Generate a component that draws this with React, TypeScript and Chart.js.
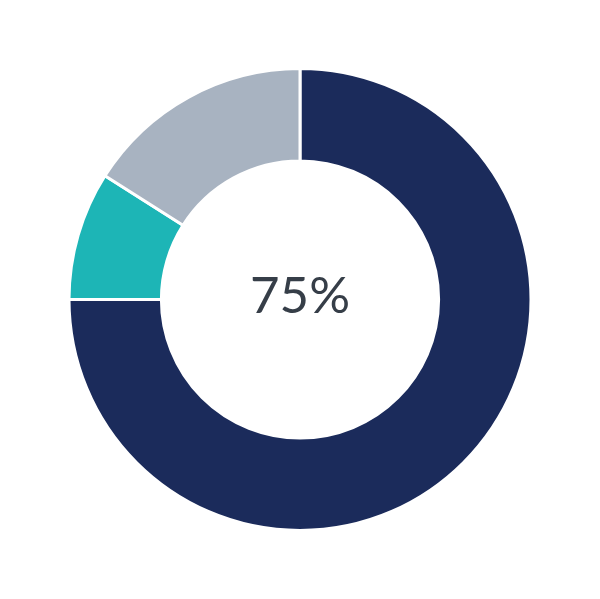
import React, { useEffect, useRef } from "react";
import { Chart, registerables } from "chart.js";

Chart.register(...registerables);

const categories = ["Primary", "Secondary", "Other"];
const values = [75, 9, 16];
const colors = ["#1b2b5b", "#1db5b6", "#a8b3c1"];
const centerLabel = "75%";

export default function App() {
  const ref = useRef<HTMLCanvasElement | null>(null);
  useEffect(() => {
    if (!ref.current) return;
    const centerText = {
      id: "centerText",
      afterDraw(chart: any) {
        const { ctx, chartArea } = chart;
        const cx = (chartArea.left + chartArea.right) / 2;
        const cy = (chartArea.top + chartArea.bottom) / 2;
        ctx.save();
        ctx.font = "400 51px Lato";
        ctx.fillStyle = "#363e48";
        ctx.textAlign = "center";
        ctx.textBaseline = "middle";
        ctx.fillText(centerLabel, cx, cy - 3);
        ctx.restore();
      },
    };
    const chart = new Chart(ref.current, {
      type: "doughnut",
      data: {
        labels: categories,
        datasets: [
          {
            data: values,
            backgroundColor: colors,
            borderColor: "#ffffff",
            borderWidth: 3,
          },
        ],
      },
      options: {
        animation: false,
        responsive: false,
        cutout: "60%",
        layout: { padding: 67 },
        plugins: { legend: { display: false }, tooltip: { enabled: false } },
      },
      plugins: [centerText],
    });
    return () => chart.destroy();
  }, []);
  return (
    <div style={{ position: "fixed", left: 0, top: 0, width: 600, height: 599, background: "#fff" }}>
      <canvas ref={ref} width={600} height={599} style={{ width: 600, height: 599 }} />
    </div>
  );
}
